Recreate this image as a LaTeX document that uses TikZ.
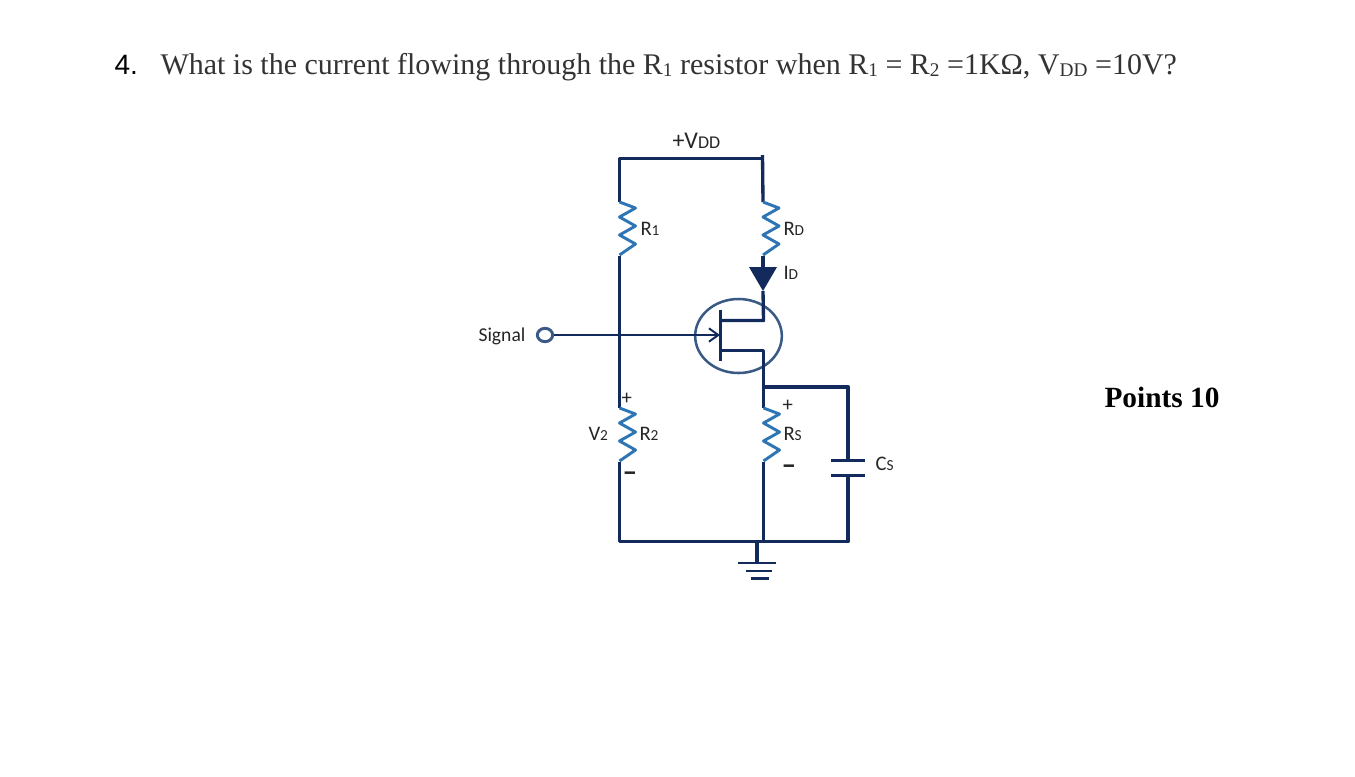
\documentclass[tikz,border=0pt]{standalone}
\usepackage{fontspec}
\setmainfont{Liberation Serif}
\newfontfamily\labelfont{Carlito}
\newfontfamily\numfont{Liberation Sans}
\usetikzlibrary{shapes.geometric,arrows.meta}
\definecolor{wirenavy}{RGB}{18,42,92}
\definecolor{resblue}{RGB}{46,117,182}
\definecolor{ringblue}{RGB}{58,90,133}
\definecolor{titlegrey}{RGB}{51,51,51}
\definecolor{labelgrey}{RGB}{38,38,38}
\newcommand{\tsub}[1]{\raisebox{-2.2pt}{\fontsize{14.5}{16}\selectfont #1}}
\newcommand{\lsub}[1]{{\fontsize{11.5}{12}\selectfont #1}}
\tikzset{every picture/.style={line width=0.75pt},
  wire/.style={draw=wirenavy,line width=2.5pt,line join=round},
  thin wire/.style={draw=wirenavy,line width=1.6pt},
  res/.style={draw=resblue,line width=2.2pt,line join=round},
  zig/.style={insert path={-- ++(16,6) -- ++(-16,9) -- ++(16,9) -- ++(-16,9) -- ++(16,9) -- ++(-16,11)}},
  plate/.style={draw=wirenavy,line width=2.1pt},
  title/.style={anchor=base west,inner sep=0pt,text=titlegrey,font=\fontsize{22.5}{26}\selectfont},
  lbl/.style={anchor=base west,inner sep=0pt,text=labelgrey,font=\labelfont\fontsize{15.5}{17}\selectfont},
  sign/.style={lbl,font=\bfseries\labelfont\fontsize{22}{24}\selectfont},
}

\begin{document}
\begin{tikzpicture}[x=0.75pt,y=0.75pt,yscale=-1,xscale=1]
\useasboundingbox (0,0) rectangle (1355,776);

% Text Node
\node (num) [title,text=black,font=\numfont\fontsize{21}{26}\selectfont] at (114,74) {4.};
\node (question) [title] at (160,74) {What is the current flowing through the R\tsub{1} resistor when R\tsub{1} = R\tsub{2} =1KΩ, V\tsub{DD} =10V?};
\node (points) [title,text=black,font=\bfseries\fontsize{22}{26}\selectfont] at (1104,407) {Points 10};

%Junctions
\coordinate (tl) at (619.5,158.5);
\coordinate (tr) at (762.5,158.5);
\coordinate (trtop) at (762.5,155);
\coordinate (r1top) at (619.5,202);
\coordinate (r1bot) at (619.5,256);
\coordinate (r2top) at (619.5,408);
\coordinate (r2bot) at (619.5,462);
\coordinate (bl) at (619.5,541.5);
\coordinate (rdtop) at (763,202);
\coordinate (rdbot) at (763,256);
\coordinate (idtop) at (763,267);
\coordinate (idtip) at (763,291);
\coordinate (idl) at (749,267);
\coordinate (idr) at (777,267);
\coordinate (drain) at (763.5,320.5);
\coordinate (drainin) at (721,320.5);
\coordinate (source) at (763.5,350.5);
\coordinate (sourcein) at (721,350.5);
\coordinate (rstap) at (763.5,387);
\coordinate (rstop) at (763.5,408);
\coordinate (rsbot) at (763.5,462);
\coordinate (bs) at (763.5,541.5);
\coordinate (cr) at (848,387);
\coordinate (cstop) at (848,460.5);
\coordinate (csbot) at (848,475.5);
\coordinate (br) at (848,541.5);
\coordinate (gnd) at (757,541.5);
\coordinate (gndtop) at (757,563);
\coordinate (gatetop) at (720.5,310);
\coordinate (gatebot) at (720.5,361);
\coordinate (gate) at (720,335);

%Transistor
\node (jfet) [ellipse,draw=ringblue,line width=1.9pt,inner sep=0pt,minimum width=65pt,minimum height=55.5pt] at (738.5,336) {};
\node (signal) [ellipse,draw=ringblue,line width=2.2pt,inner sep=0pt,minimum width=11.5pt,minimum height=10pt] at (545,335) {};

%Straight Lines
\draw [wire] (r1top) -- (tl) -- (tr);
\draw [wire] (trtop) -- (rdtop);
\draw [wire] (r1bot) -- (r2top);
\draw [wire] (r2bot) -- (bl) -- (br) -- (csbot);
\draw [wire] (rdbot) -- (idtop);
\draw [wire] (idtip) -- (drain) -- (drainin);
\draw [wire] (sourcein) -- (source) -- (rstop);
\draw [wire] (rstap) -- (cr) -- (cstop);
\draw [wire] (rsbot) -- (bs);
\draw [wire] (gnd) -- (gndtop);
\draw [wire] (gatetop) -- (gatebot);
\draw [thin wire,-{Straight Barb[length=7pt,width=10pt,line width=1.5pt]}] (signal) -- (gate);

%Resistors
\draw [res] (r1top) [zig];
\draw [res] (rdtop) [zig];
\draw [res] (r2top) [zig];
\draw [res] (rstop) [zig];

%Current arrow
\fill [wirenavy] (idl) -- (idr) -- (idtip) -- cycle;

%Capacitor
\draw [plate] (831,460.5) coordinate (c1l) -- (865,460.5) coordinate (c1r);
\draw [plate] (831,475.5) coordinate (c2l) -- (865,475.5) coordinate (c2r);

%Ground
\draw [plate] (738,563) coordinate (g1l) -- (776,563) coordinate (g1r);
\draw [plate] (746,571) coordinate (g2l) -- (772,571) coordinate (g2r);
\draw [plate] (751,578.5) coordinate (g3l) -- (769,578.5) coordinate (g3r);

% Text Node
\node (vdd) [lbl,font=\labelfont\fontsize{18}{20}\selectfont] at (672,148) {+V{\fontsize{13.5}{14}\selectfont DD}};
\node (r1) [lbl] at (640,235) {R\lsub{1}};
\node (rd) [lbl] at (783,235) {R\lsub{D}};
\node (id) [lbl] at (783,279) {I\lsub{D}};
\node (sig) [lbl,font=\labelfont\fontsize{14.7}{17}\selectfont] at (478,341) {Signal};
\node (v2) [lbl] at (588,440) {V\lsub{2}};
\node (r2) [lbl] at (639,440) {R\lsub{2}};
\node (rs) [lbl] at (783,440) {R\lsub{S}};
\node (cs) [lbl] at (875,470) {C\lsub{S}};
\node (plusa) [lbl] at (621,404) {+};
\node (minusa) [sign] at (622,481) {\textendash};
\node (plusb) [lbl] at (782,411) {+};
\node (minusb) [sign] at (781,474) {\textendash};

\end{tikzpicture}
\end{document}
